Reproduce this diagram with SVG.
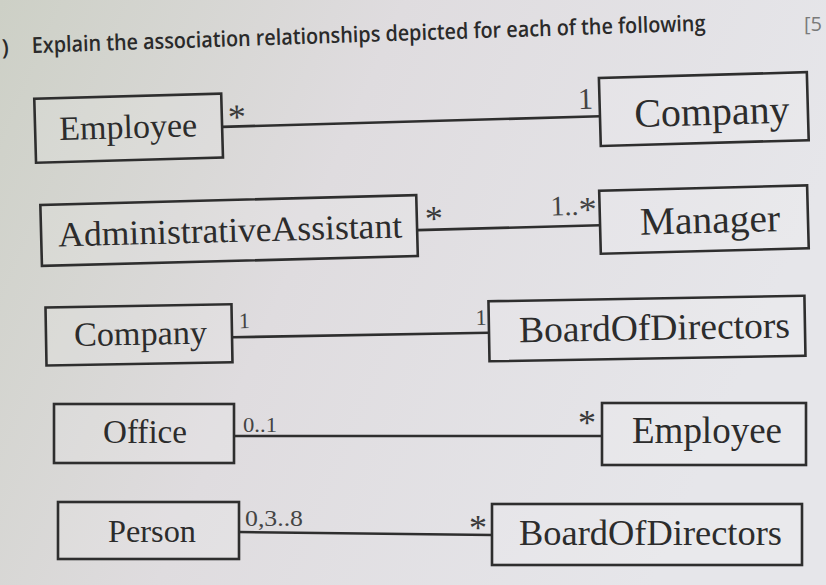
<svg xmlns="http://www.w3.org/2000/svg" width="826" height="585" viewBox="0 0 826 585">
<defs>
<linearGradient id="bg" x1="0" y1="0" x2="1" y2="0.3">
<stop offset="0" stop-color="#cdd0c6"/>
<stop offset="0.45" stop-color="#dfdcdf"/>
<stop offset="1" stop-color="#e6e6ea"/>
</linearGradient>
<style>
.box{fill:#ffffff;fill-opacity:0.12;stroke:#2e2e2e;stroke-width:2.6}
.name{font-family:"Liberation Serif","Times New Roman",serif;fill:#2c2c2c;text-anchor:middle}
.conn{stroke:#2e2e2e;stroke-width:2.6;fill:none}
.mult{font-family:"Liberation Serif","Times New Roman",serif;fill:#444}
.star{font-family:"Liberation Serif","Times New Roman",serif;fill:#3a3a3a;font-size:36px;text-anchor:middle}
.title{font-family:"Open Sans","Liberation Sans",sans-serif;font-weight:600;fill:#2a2a2a}
</style>
</defs>
<rect x="0" y="0" width="826" height="585" fill="url(#bg)"/>

<text class="title" x="2" y="54" font-size="22" transform="rotate(-1.9 32 53)">)</text>
<text class="title" x="32" y="53" font-size="22" textLength="674" lengthAdjust="spacingAndGlyphs" transform="rotate(-1.9 32 53)">Explain the association  relationships depicted for each of the following</text>
<text x="804" y="31" font-size="20" style="font-family:'Open Sans','Liberation Sans',sans-serif;fill:#7a7a7a">[5</text>

<!-- Row 1 -->
<g id="employee1" transform="rotate(-1.6 420 120)">
<rect class="box" x="35" y="88" width="187" height="64"/>
<text class="name" x="128" y="130" font-size="34" textLength="138" lengthAdjust="spacingAndGlyphs">Employee</text>
</g>
<g id="company1" transform="rotate(-1.6 420 120)">
<rect class="box" x="600" y="83" width="208" height="68"/>
<text class="name" x="712" y="133" font-size="40" textLength="155" lengthAdjust="spacingAndGlyphs">Company</text>
</g>

<!-- Row 2 -->
<g id="adminAssistant" transform="rotate(-1.5 420 225)">
<rect class="box" x="41" y="195" width="376" height="61"/>
<text class="name" x="230" y="237" font-size="35" textLength="344" lengthAdjust="spacingAndGlyphs">AdministrativeAssistant</text>
</g>
<g id="manager" transform="rotate(-1.5 420 225)">
<rect class="box" x="600" y="195.5" width="208" height="63"/>
<text class="name" x="710" y="240.5" font-size="39" textLength="140" lengthAdjust="spacingAndGlyphs">Manager</text>
</g>

<!-- Row 3 -->
<g id="company3" transform="rotate(-1 420 333)">
<rect class="box" x="46" y="301" width="186" height="58"/>
<text class="name" x="140.5" y="340" font-size="34" textLength="133" lengthAdjust="spacingAndGlyphs">Company</text>
</g>
<g id="board3" transform="rotate(-1 420 333)">
<rect class="box" x="489" y="302.5" width="316" height="60"/>
<text class="name" x="654.5" y="344" font-size="37" textLength="271" lengthAdjust="spacingAndGlyphs">BoardOfDirectors</text>
</g>

<!-- Row 4 -->
<g id="office">
<rect class="box" x="54" y="404" width="180" height="59"/>
<text class="name" x="145" y="443" font-size="33" textLength="84" lengthAdjust="spacingAndGlyphs">Office</text>
</g>
<g id="employee4">
<rect class="box" x="602" y="403" width="204" height="62"/>
<text class="name" x="707" y="443" font-size="37" textLength="150" lengthAdjust="spacingAndGlyphs">Employee</text>
</g>

<!-- Row 5 -->
<g id="person">
<rect class="box" x="58" y="502" width="181" height="57"/>
<text class="name" x="152" y="542" font-size="32" textLength="88" lengthAdjust="spacingAndGlyphs">Person</text>
</g>
<g id="board5">
<rect class="box" x="492" y="504" width="310" height="61"/>
<text class="name" x="650.5" y="545" font-size="36" textLength="263" lengthAdjust="spacingAndGlyphs">BoardOfDirectors</text>
</g>

<g id="connectors">
<g transform="rotate(-1.6 420 120)">
<line class="conn" x1="222" y1="121.3" x2="600" y2="121.3" stroke-width="3"/>
<text class="star" x="237" y="124">*</text>
<text class="mult" x="586" y="113.5" font-size="30" text-anchor="middle">1</text>
</g>
<g transform="rotate(-1.5 420 225)">
<line class="conn" x1="417" y1="230" x2="600" y2="230"/>
<text class="star" x="434" y="231">*</text>
<text class="mult" x="597" y="219" font-size="28" text-anchor="end">1..<tspan font-size="36" dy="7">*</tspan></text>
</g>
<g transform="rotate(-1 420 333)">
<line class="conn" x1="232" y1="334" x2="489" y2="334"/>
<text class="mult" x="239" y="325" font-size="22">1</text>
<text class="mult" x="476" y="326" font-size="22">1</text>
</g>
<line class="conn" x1="234" y1="436" x2="602" y2="436" stroke-width="2.2"/>
<text class="mult" x="243" y="432" font-size="22" textLength="34" lengthAdjust="spacingAndGlyphs">0..1</text>
<text class="star" x="587" y="435">*</text>
<line class="conn" x1="239" y1="532" x2="492" y2="535"/>
<text class="mult" x="245" y="526" font-size="23" textLength="58" lengthAdjust="spacingAndGlyphs">0,3..8</text>
<text class="star" x="478" y="540">*</text>
</g>
</svg>
